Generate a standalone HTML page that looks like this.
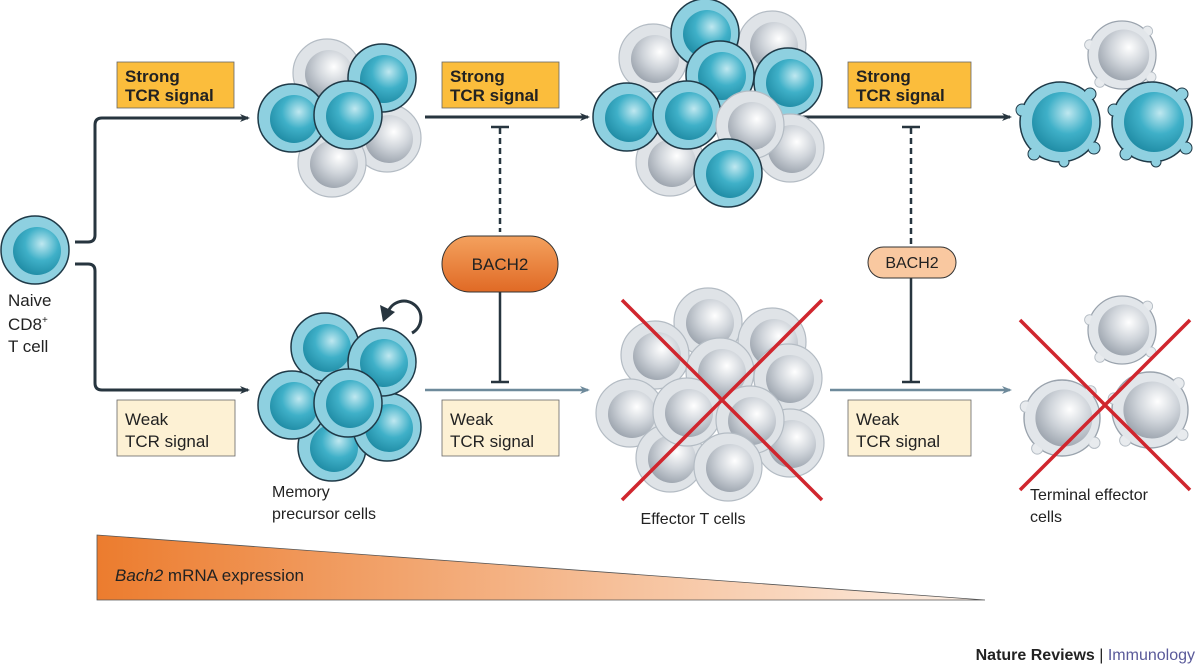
<!DOCTYPE html>
<html><head><meta charset="utf-8"><style>
body{margin:0;background:#fff;}
svg{display:block;font-family:"Liberation Sans",sans-serif;}
</style></head><body>
<svg width="1200" height="666" viewBox="0 0 1200 666">
<defs>
<radialGradient id="bi" cx="0.6" cy="0.35" r="0.7"><stop offset="0" stop-color="#bfe8f0"/><stop offset="0.5" stop-color="#3fb0c8"/><stop offset="1" stop-color="#1e8aa3"/></radialGradient>
<radialGradient id="gi" cx="0.6" cy="0.35" r="0.7"><stop offset="0" stop-color="#ffffff"/><stop offset="0.5" stop-color="#cfd4da"/><stop offset="1" stop-color="#9aa2ac"/></radialGradient>
<linearGradient id="bach" x1="0" y1="0" x2="0" y2="1"><stop offset="0" stop-color="#f4a15e"/><stop offset="1" stop-color="#e06a25"/></linearGradient>
<linearGradient id="tri" x1="0" y1="0" x2="1" y2="0"><stop offset="0" stop-color="#ec7c2e"/><stop offset="1" stop-color="#fdf0e6"/></linearGradient>
<g id="B"><circle r="34" fill="#8ed0e0" stroke="#1f3a48" stroke-width="1.5"/><circle cx="2" cy="1" r="24" fill="url(#bi)"/></g>
<g id="G"><circle r="34" fill="#dfe3e7" stroke="#b4bcc4" stroke-width="1.2"/><circle cx="2" cy="1" r="24" fill="url(#gi)"/></g>
<g id="TB"><circle r="40" fill="#8fd0e0" stroke="#1f3a48" stroke-width="1.5"/>
<circle cx="-38" cy="-12" r="6" fill="#8fd0e0" stroke="#1f3a48"/><circle cx="30" cy="-28" r="6" fill="#8fd0e0" stroke="#1f3a48"/><circle cx="-26" cy="32" r="6" fill="#8fd0e0" stroke="#1f3a48"/><circle cx="34" cy="26" r="6" fill="#8fd0e0" stroke="#1f3a48"/><circle cx="4" cy="40" r="5" fill="#8fd0e0" stroke="#1f3a48"/>
<circle r="39" fill="#8fd0e0"/><circle cx="2" cy="0" r="30" fill="url(#bi)"/></g>
<g id="TG"><circle r="40" fill="#e2e6ea" stroke="#9aa3ad" stroke-width="1.5"/>
<circle cx="-38" cy="-12" r="6" fill="#e8ebee" stroke="#b4bcc4"/><circle cx="30" cy="-28" r="6" fill="#e8ebee" stroke="#b4bcc4"/><circle cx="-26" cy="32" r="6" fill="#e8ebee" stroke="#b4bcc4"/><circle cx="34" cy="26" r="6" fill="#e8ebee" stroke="#b4bcc4"/>
<circle r="39" fill="#e2e6ea"/><circle cx="2" cy="0" r="30" fill="url(#gi)"/></g>
<marker id="ad" markerWidth="10" markerHeight="10" refX="8" refY="4" orient="auto" markerUnits="userSpaceOnUse"><path d="M0,0 L10,4 L0,8 L3,4 z" fill="#27353f"/></marker>
<marker id="al" markerWidth="10" markerHeight="10" refX="8" refY="4" orient="auto" markerUnits="userSpaceOnUse"><path d="M0,0 L10,4 L0,8 L3,4 z" fill="#6e8a9b"/></marker>
</defs>

<use href="#B" transform="translate(35,250)"/>
<text x="8" y="306" font-size="17" fill="#222">Naive</text>
<text x="8" y="330" font-size="17" fill="#222">CD8<tspan font-size="10" dy="-7">+</tspan></text>
<text x="8" y="352" font-size="17" fill="#222">T cell</text>

<path d="M75,242 L88,242 Q95,242 95,235 L95,125 Q95,118 102,118 L248,118" fill="none" stroke="#27353f" stroke-width="3" marker-end="url(#ad)"/>
<path d="M75,264 L88,264 Q95,264 95,271 L95,383 Q95,390 102,390 L248,390" fill="none" stroke="#27353f" stroke-width="3" marker-end="url(#ad)"/>

<rect x="117" y="62" width="117" height="46" fill="#fbbd3c" stroke="#666" stroke-width="0.8"/>
<text x="125" y="82" font-size="17" font-weight="bold" fill="#222">Strong</text>
<text x="125" y="101" font-size="17" font-weight="bold" fill="#222">TCR signal</text>
<rect x="442" y="62" width="117" height="46" fill="#fbbd3c" stroke="#666" stroke-width="0.8"/>
<text x="450" y="82" font-size="17" font-weight="bold" fill="#222">Strong</text>
<text x="450" y="101" font-size="17" font-weight="bold" fill="#222">TCR signal</text>
<rect x="848" y="62" width="123" height="46" fill="#fbbd3c" stroke="#666" stroke-width="0.8"/>
<text x="856" y="82" font-size="17" font-weight="bold" fill="#222">Strong</text>
<text x="856" y="101" font-size="17" font-weight="bold" fill="#222">TCR signal</text>

<rect x="117" y="400" width="118" height="56" fill="#fdf1d4" stroke="#666" stroke-width="0.8"/>
<text x="125" y="425" font-size="17" fill="#222">Weak</text>
<text x="125" y="447" font-size="17" fill="#222">TCR signal</text>
<rect x="442" y="400" width="117" height="56" fill="#fdf1d4" stroke="#666" stroke-width="0.8"/>
<text x="450" y="425" font-size="17" fill="#222">Weak</text>
<text x="450" y="447" font-size="17" fill="#222">TCR signal</text>
<rect x="848" y="400" width="123" height="56" fill="#fdf1d4" stroke="#666" stroke-width="0.8"/>
<text x="856" y="425" font-size="17" fill="#222">Weak</text>
<text x="856" y="447" font-size="17" fill="#222">TCR signal</text>

<use href="#G" transform="translate(327,73)"/>
<use href="#G" transform="translate(387,138)"/>
<use href="#G" transform="translate(332,163)"/>
<use href="#B" transform="translate(382,78)"/>
<use href="#B" transform="translate(292,118)"/>
<use href="#B" transform="translate(348,115)"/>

<path d="M412,333 A17,17 0 1 0 388,312" fill="none" stroke="#27353f" stroke-width="3"/>
<path d="M380,305 L395,312 L383,322 z" fill="#27353f"/>
<use href="#B" transform="translate(332,447)"/>
<use href="#B" transform="translate(387,427)"/>
<use href="#B" transform="translate(325,347)"/>
<use href="#B" transform="translate(382,362)"/>
<use href="#B" transform="translate(292,405)"/>
<use href="#B" transform="translate(348,403)"/>
<text x="272" y="497" font-size="16" fill="#222">Memory</text>
<text x="272" y="519" font-size="16" fill="#222">precursor cells</text>

<line x1="425" y1="117" x2="588" y2="117" stroke="#27353f" stroke-width="3" marker-end="url(#ad)"/>
<line x1="425" y1="390" x2="588" y2="390" stroke="#6e8a9b" stroke-width="2.5" marker-end="url(#al)"/>
<line x1="800" y1="117" x2="1010" y2="117" stroke="#27353f" stroke-width="3" marker-end="url(#ad)"/>
<line x1="830" y1="390" x2="1010" y2="390" stroke="#6e8a9b" stroke-width="2.5" marker-end="url(#al)"/>

<line x1="500" y1="128" x2="500" y2="232" stroke="#27353f" stroke-width="2.5" stroke-dasharray="6,4"/>
<line x1="491" y1="127" x2="509" y2="127" stroke="#27353f" stroke-width="2.5"/>
<line x1="500" y1="292" x2="500" y2="381" stroke="#27353f" stroke-width="2.5"/>
<line x1="491" y1="382" x2="509" y2="382" stroke="#27353f" stroke-width="2.5"/>
<rect x="442" y="236" width="116" height="56" rx="28" fill="url(#bach)" stroke="#333" stroke-width="1"/>
<text x="500" y="270" font-size="17" fill="#222" text-anchor="middle">BACH2</text>

<line x1="911" y1="128" x2="911" y2="244" stroke="#27353f" stroke-width="2.5" stroke-dasharray="6,4"/>
<line x1="902" y1="127" x2="920" y2="127" stroke="#27353f" stroke-width="2.5"/>
<line x1="911" y1="278" x2="911" y2="381" stroke="#27353f" stroke-width="2.5"/>
<line x1="902" y1="382" x2="920" y2="382" stroke="#27353f" stroke-width="2.5"/>
<rect x="868" y="247" width="88" height="31" rx="15.5" fill="#f9c8a0" stroke="#333" stroke-width="1"/>
<text x="912" y="268" font-size="16" fill="#222" text-anchor="middle">BACH2</text>

<use href="#G" transform="translate(653,58)"/>
<use href="#G" transform="translate(772,45)"/>
<use href="#B" transform="translate(705,33)"/>
<use href="#B" transform="translate(720,75)"/>
<use href="#B" transform="translate(788,82)"/>
<use href="#G" transform="translate(790,148)"/>
<use href="#G" transform="translate(670,162)"/>
<use href="#B" transform="translate(627,117)"/>
<use href="#B" transform="translate(687,115)"/>
<use href="#G" transform="translate(750,125)"/>
<use href="#B" transform="translate(728,173)"/>

<use href="#G" transform="translate(708,322)"/>
<use href="#G" transform="translate(655,355)"/>
<use href="#G" transform="translate(772,342)"/>
<use href="#G" transform="translate(720,372)"/>
<use href="#G" transform="translate(788,378)"/>
<use href="#G" transform="translate(630,413)"/>
<use href="#G" transform="translate(790,443)"/>
<use href="#G" transform="translate(670,458)"/>
<use href="#G" transform="translate(687,412)"/>
<use href="#G" transform="translate(750,420)"/>
<use href="#G" transform="translate(728,467)"/>
<line x1="622" y1="300" x2="822" y2="500" stroke="#d0262e" stroke-width="3.5"/>
<line x1="822" y1="300" x2="622" y2="500" stroke="#d0262e" stroke-width="3.5"/>
<text x="693" y="524" font-size="16" fill="#222" text-anchor="middle">Effector T cells</text>

<use href="#TG" transform="translate(1122,55) scale(0.85)"/>
<use href="#TB" transform="translate(1060,122) scale(1)"/>
<use href="#TB" transform="translate(1152,122) scale(1)"/>

<use href="#TG" transform="translate(1122,330) scale(0.85)"/>
<use href="#TG" transform="translate(1062,418) scale(0.95)"/>
<use href="#TG" transform="translate(1150,410) scale(0.95)"/>
<line x1="1020" y1="320" x2="1190" y2="490" stroke="#d0262e" stroke-width="3.5"/>
<line x1="1190" y1="320" x2="1020" y2="490" stroke="#d0262e" stroke-width="3.5"/>
<text x="1030" y="500" font-size="16" fill="#222">Terminal effector</text>
<text x="1030" y="522" font-size="16" fill="#222">cells</text>

<path d="M97,535 L985,600 L97,600 z" fill="url(#tri)" stroke="#555" stroke-width="0.8"/>
<text x="115" y="581" font-size="17" fill="#222"><tspan font-style="italic">Bach2</tspan> mRNA expression</text>

<text x="1195" y="660" font-size="16" text-anchor="end" fill="#222"><tspan font-weight="bold">Nature Reviews</tspan> | <tspan fill="#5a5a9a">Immunology</tspan></text>
</svg>
</body></html>
